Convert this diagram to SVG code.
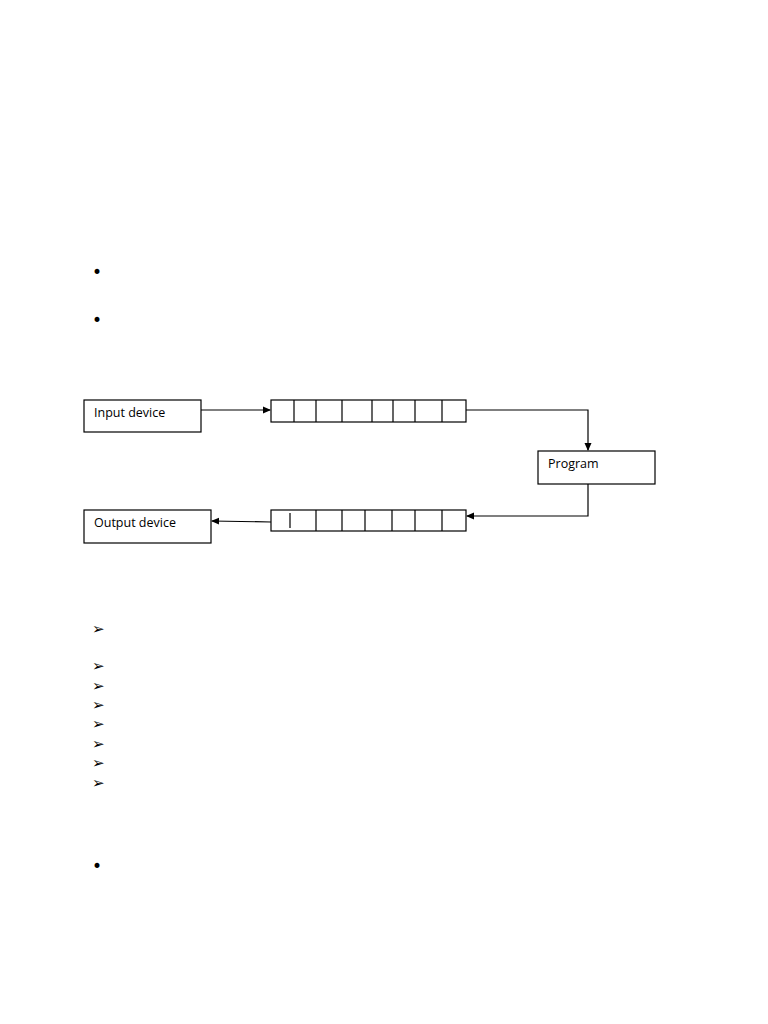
<svg xmlns="http://www.w3.org/2000/svg" width="768" height="1024" viewBox="0 0 768 1024">
<style>
.b{fill:#fff;stroke:#000;stroke-width:1.2}
.l{stroke:#000;stroke-width:1.2;fill:none}
.t{font-family:"Open Sans","Liberation Sans",sans-serif;font-size:12.5px;fill:#000}
.bu{font-family:"DejaVu Sans",sans-serif;font-size:17px;fill:#000}
.ar{font-family:"DejaVu Sans",sans-serif;font-size:15px;fill:#000}
</style>
<defs><marker id="a" markerWidth="8" markerHeight="8" refX="7" refY="4" orient="auto" markerUnits="userSpaceOnUse"><path d="M0,0.5 L8,4 L0,7.5Z" fill="#000"/></marker></defs>
<rect width="768" height="1024" fill="#fff"/>
<g class="bu">
<text x="92" y="278">•</text><text x="92" y="326">•</text><text x="92" y="872">•</text>
</g>
<g class="ar">
<text x="92" y="634">➢</text><text x="92" y="671">➢</text><text x="92" y="691">➢</text><text x="92" y="710">➢</text><text x="92" y="729">➢</text><text x="92" y="749">➢</text><text x="92" y="768">➢</text><text x="92" y="788">➢</text>
</g>
<g id="input"><rect class="b" x="84" y="400" width="117" height="32"/><text class="t" x="94" y="417">Input device</text></g>
<g id="output"><rect class="b" x="84" y="510" width="127" height="33"/><text class="t" x="94" y="527">Output device</text></g>
<g id="program"><rect class="b" x="538" y="451" width="117" height="33"/><text class="t" x="548" y="468">Program</text></g>
<g id="queue-in"><rect class="b" x="271" y="400" width="195" height="22"/>
<path class="l" d="M294,400V422M316,400V422M342,400V422M372,400V422M393,400V422M415,400V422M442,400V422"/></g>
<g id="queue-out"><rect class="b" x="271" y="510" width="195" height="21"/>
<path class="l" d="M290,513V528M316,510V531M342,510V531M365,510V531M392,510V531M415,510V531M442,510V531"/></g>
<g id="connectors">
<path class="l" d="M201,410H270" marker-end="url(#a)"/>
<path class="l" d="M466,410H588V450" marker-end="url(#a)"/>
<path class="l" d="M588,484V516H467" marker-end="url(#a)"/>
<path class="l" d="M271,522L212,521" marker-end="url(#a)"/>
</g>
</svg>
